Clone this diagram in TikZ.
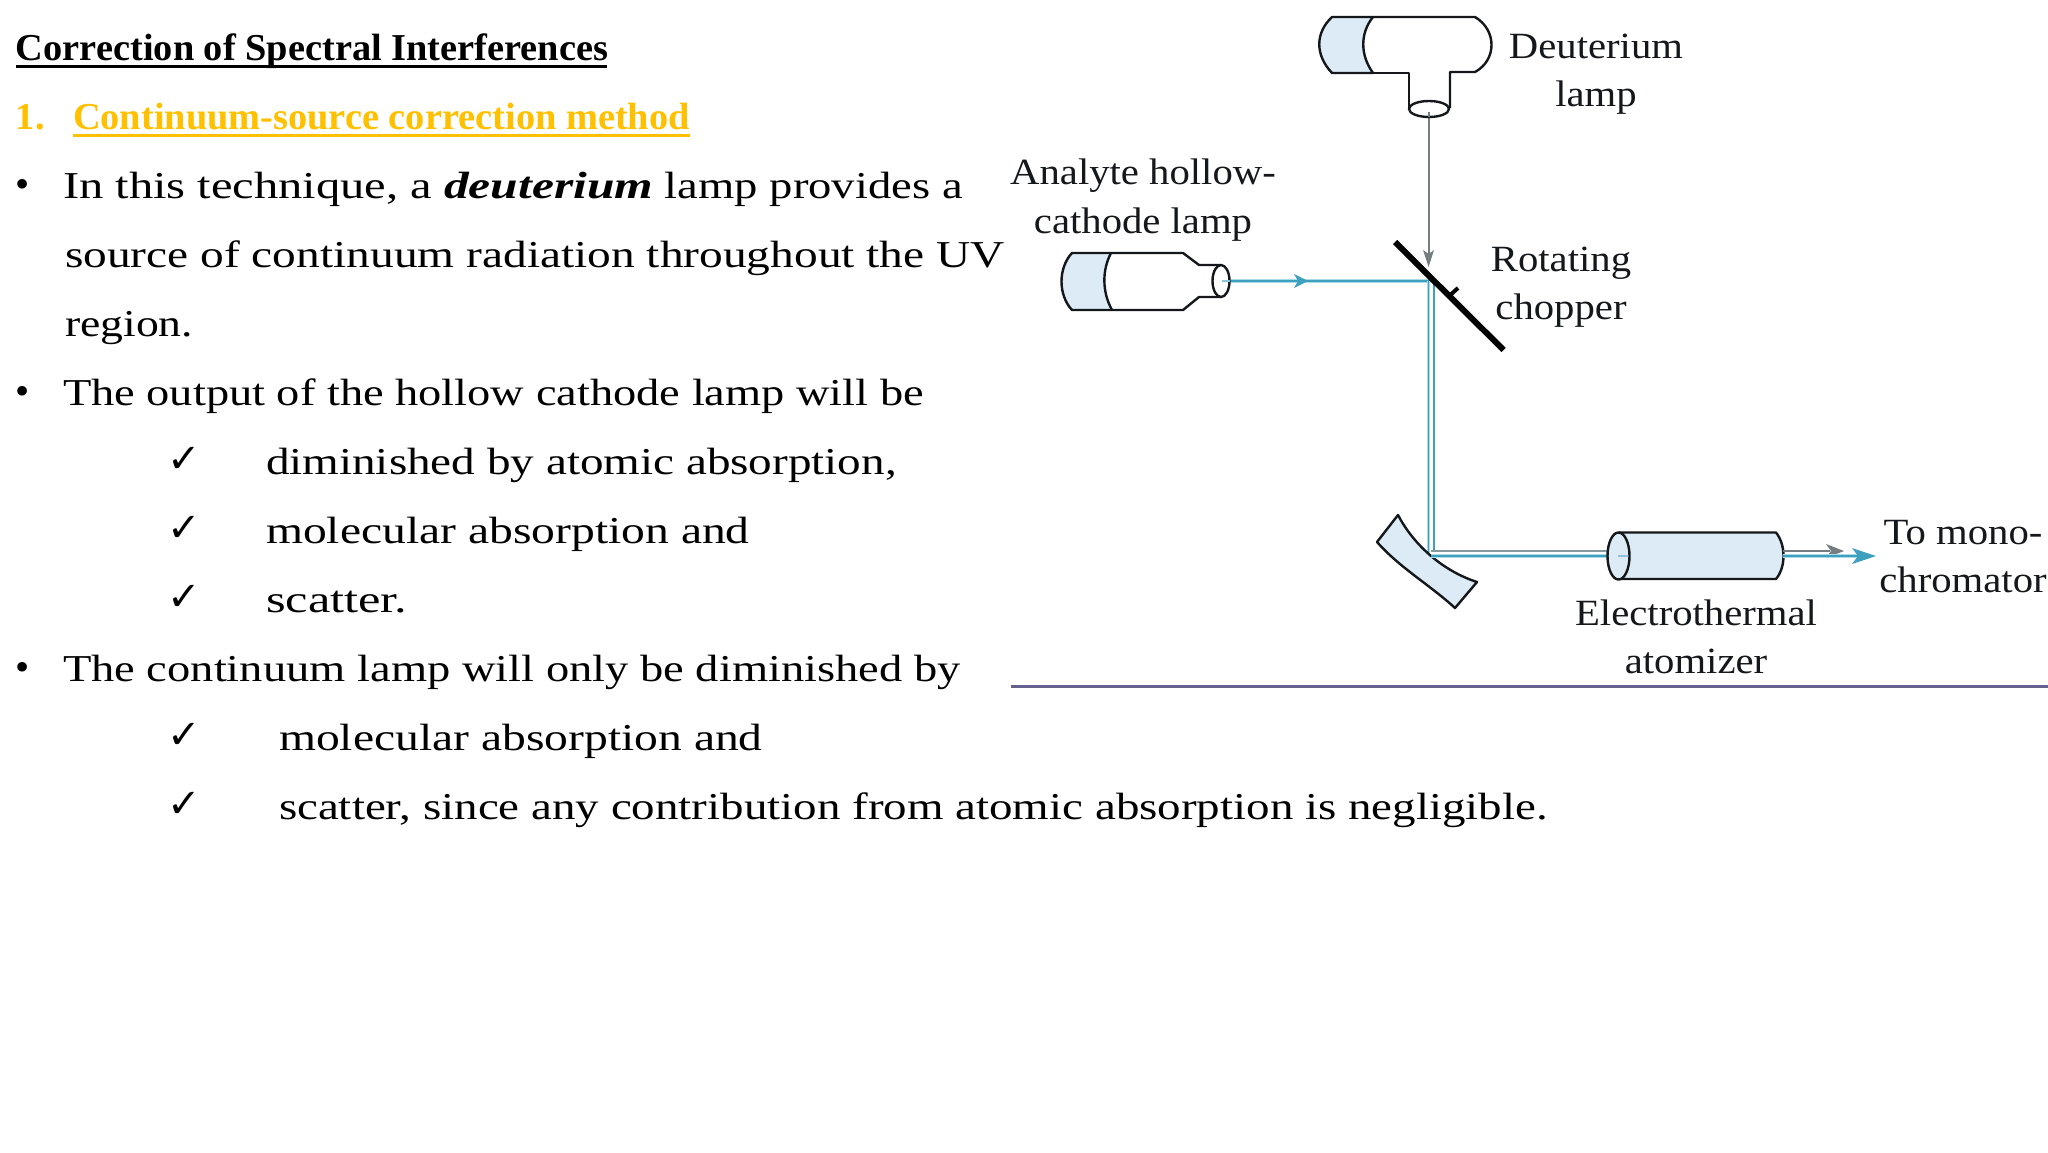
\documentclass[tikz,border=0pt]{standalone}
\usepackage{fontspec}
\usepackage{graphicx}
\setmainfont{Liberation Serif}
\newfontfamily\bodyfont[FakeStretch=1.24]{Liberation Serif}
\newfontfamily\labelfont[FakeStretch=1.1]{Liberation Serif}
\newfontfamily\headfont[FakeStretch=1.01]{Liberation Serif}
\newfontfamily\checkfont{DejaVu Sans}
\newcommand{\fitw}[2]{\scalebox{#1}[1]{#2}}
\definecolor{lampblue}{HTML}{DCEBF5}
\definecolor{beamblue}{HTML}{3F9FBF}
\definecolor{beamhalo}{HTML}{A9DCE8}
\definecolor{beamgray}{HTML}{767D80}
\definecolor{headgold}{HTML}{FFC000}
\definecolor{rulepurple}{HTML}{66628F}
\definecolor{inkdark}{HTML}{15181A}
\tikzset{
  x=1pt,y=-1pt,
  txt/.style={anchor=base west,inner sep=0pt,outer sep=0pt,font=\bodyfont\fontsize{38}{38}\selectfont,text=black},
  headtxt/.style={anchor=base west,inner sep=0pt,outer sep=0pt,font=\headfont\bfseries\fontsize{38}{38}\selectfont},
  lbl/.style={anchor=base,inner sep=0pt,outer sep=0pt,font=\labelfont\fontsize{37}{37}\selectfont,text=inkdark},
  lampline/.style={draw=inkdark,line width=2.4pt,line join=round},
  halo/.style={draw=beamhalo,line width=4.4pt},
  beam/.style={draw=beamblue,line width=1.8pt},
  graybeam/.style={draw=beamgray,line width=2pt},
  chk/.style={anchor=center,inner sep=0pt,font=\checkfont\fontsize{40}{40}\selectfont},
  bul/.style={anchor=center,inner sep=0pt,font=\headfont\fontsize{40}{40}\selectfont}
}
\begin{document}
\begin{tikzpicture}
\useasboundingbox (0,0) rectangle (2048,1152);
\fill[white] (0,0) rectangle (2048,1152);
% headings
\node[headtxt] (title) at (16,60) {Correction of Spectral Interferences};
\draw[black,line width=3pt] (16,66) -- (607,66);
\node[headtxt,text=headgold] (num) at (16,129) {1.};
\node[headtxt,text=headgold] (head) at (73,129) {Continuum-source correction method};
\draw[headgold,line width=3pt] (73,135) -- (690,135);
% body text
\node[bul] (b1) at (23,188) {•};
\node[txt] (l1) at (63,198) {\fitw{1.03}{In this technique, a} \fitw{1.05}{\textbf{\textit{deuterium}}} \fitw{0.99}{lamp provides a}};
\node[txt] (l2) at (65,267) {\fitw{1.006}{source of continuum radiation throughout the UV}};
\node[txt] (l3) at (65,336) {\fitw{0.97}{region.}};
\node[bul] (b2) at (23,395) {•};
\node[txt] (l4) at (63,405) {\fitw{0.985}{The output of the hollow cathode lamp will be}};
\node[chk] (c1) at (184,460) {✓};
\node[txt] (l5) at (266,474) {diminished by atomic absorption,};
\node[chk] (c2) at (184,529) {✓};
\node[txt] (l6) at (266,543) {\fitw{1.01}{molecular absorption and}};
\node[chk] (c3) at (184,598) {✓};
\node[txt] (l7) at (266,612) {\fitw{1.07}{scatter.}};
\node[bul] (b3) at (23,671) {•};
\node[txt] (l8) at (63,681) {\fitw{0.987}{The continuum lamp will only be diminished by}};
\node[chk] (c4) at (184,736) {✓};
\node[txt] (l9) at (279,750) {\fitw{1.01}{molecular absorption and}};
\node[chk] (c5) at (184,805) {✓};
\node[txt] (l10) at (279,819) {\fitw{0.997}{scatter, since any contribution from atomic absorption is negligible.}};
% baseline rule
\draw[rulepurple,line width=3pt] (1011,686) -- (2048,686);
% coordinates of the optical path
\coordinate (dout) at (1428.6,110);
\coordinate (hout) at (1222,281);
\coordinate (chopA) at (1395,242);
\coordinate (chopB) at (1503.6,350);
\coordinate (hit) at (1431,281);
\coordinate (atomL) at (1618.5,556);
\coordinate (atomR) at (1783,556);
% beams below everything
\draw[halo] (hout) -- (hit);
\draw[beam] (hout) -- (hit);
\draw[draw=beamhalo,line width=2.8pt] (1428.5,281) -- (1428.5,555) (1434,281) -- (1434,552);
\draw[beam,line width=1.5pt] (1428.5,281) -- (1428.5,555);
\draw[beam,line width=1.5pt] (1434,281) -- (1434,552);
\draw[graybeam] (dout) -- (1428.6,262);
\fill[beamgray] (1428.6,267) -- (1423,250) -- (1428.6,254) -- (1434,250) -- cycle;
% mirror
\draw[lampline,fill=lampblue] (1398,515) .. controls (1412,542) and (1440,570) .. (1477,582)
  -- (1455,608) .. controls (1430,585) and (1400,568) .. (1377,542) -- cycle;
% beams to atomizer
\draw[draw=beamgray!70!beamhalo,line width=2.4pt] (1431,551) -- (atomL|-0,551);
\draw[halo] (1431,556) -- (atomL);
\draw[beam,line width=2.2pt] (1431,556) -- (atomL);
% atomizer
\draw[lampline,fill=lampblue] (1618.5,532.5) -- (1776,532.5) .. controls (1786,545) and (1786,567) .. (1776,579) -- (1618.5,579);
\draw[lampline,fill=lampblue] (atomL) ellipse [x radius=11,y radius=23.5];
\draw[beam,line width=1.6pt,draw=beamblue!60] (1618,556) -- (1628,556);
% output beams
\draw[draw=beamgray,line width=2.4pt] (atomR|-0,551) -- (1830,551);
\fill[beamgray] (1844,551) -- (1826,544) -- (1831,551) -- (1826,558) -- cycle;
\draw[halo] (atomR) -- (1858,556);
\draw[beam,line width=2.2pt] (atomR) -- (1858,556);
\fill[beamblue] (1876,556) -- (1852,548) -- (1858,556) -- (1852,564) -- cycle;
% chopper
\draw[black,line width=6pt] (chopA) -- (chopB);
\draw[black,line width=4pt] (1448,297) -- (1458,288);
\fill[beamblue] (1308,281) -- (1294,274) -- (1298,281) -- (1294,288) -- cycle;
% analyte lamp
\path[fill=white] (1070,253) -- (1183,253) -- (1199,265) -- (1221,265) -- (1221,297) -- (1199,297) -- (1183,310) -- (1070,310) -- (1062,281) -- cycle;
\path[fill=lampblue] (1070,253) -- (1111,253) .. controls (1102,270) and (1102,292) .. (1112,310) -- (1070,310) .. controls (1058,295) and (1058,268) .. (1070,253) -- cycle;
\draw[lampline] (1112,253) -- (1183,253) -- (1199,265) -- (1221,265);
\draw[lampline] (1221,297) -- (1199,297) -- (1183,310) -- (1072,310) .. controls (1058,295) and (1058,268) .. (1072,253) -- (1112,253);
\draw[lampline] (1111,253) .. controls (1102,270) and (1102,292) .. (1112,310);
\draw[lampline,fill=white] (1221,281) ellipse [x radius=8.5,y radius=16];
\draw[beam,draw=beamblue!60,line width=1.4pt] (1222,281) -- (1230,281);
% deuterium lamp
\begin{scope}
\clip (1300,15) rectangle (1510,130);
\path[fill=white] (1335,17) -- (1475,17) .. controls (1497,30) and (1497,60) .. (1475,72) -- (1450,72) -- (1450,108) -- (1409,108) -- (1409,72) -- (1330,73) -- cycle;
\path[fill=lampblue] (1332,17) -- (1373,17) .. controls (1360,33) and (1360,55) .. (1373,73) -- (1332,73) .. controls (1315,55) and (1315,33) .. (1332,17) -- cycle;
\draw[lampline] (1373,73) -- (1332,73) .. controls (1315,55) and (1315,33) .. (1332,17) -- (1475,17) .. controls (1497,30) and (1497,60) .. (1475,72) -- (1450,72) -- (1450,108);
\draw[lampline] (1373,73) -- (1409,73) -- (1409,108);
\draw[lampline] (1373,17) .. controls (1360,33) and (1360,55) .. (1373,73);
\draw[lampline,fill=white] (1429,109) ellipse [x radius=20,y radius=8];
\draw[graybeam] (1428.6,112) -- (dout|-0,117);
\end{scope}
% labels
\node[lbl] (d1) at (1596,58) {Deuterium};
\node[lbl] (d2) at (1596,106) {lamp};
\node[lbl] (a1) at (1143,184) {Analyte hollow-};
\node[lbl] (a2) at (1143,233) {cathode lamp};
\node[lbl] (r1) at (1561,271) {Rotating};
\node[lbl] (r2) at (1561,319) {chopper};
\node[lbl] (e1) at (1696,625) {Electrothermal};
\node[lbl] (e2) at (1696,673) {atomizer};
\node[lbl] (m1) at (1963,544) {To mono-};
\node[lbl] (m2) at (1963,592) {chromator};
\end{tikzpicture}
\end{document}
